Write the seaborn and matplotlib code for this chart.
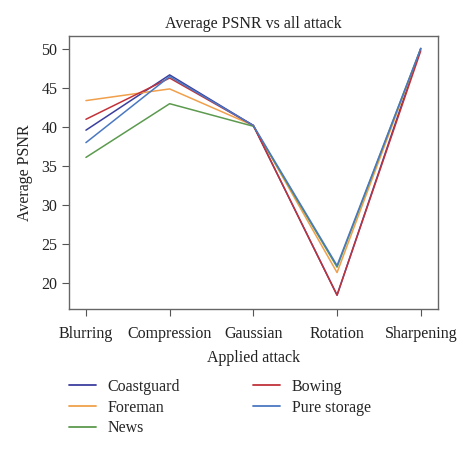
import pandas as pd
import numpy as np
import seaborn as sns
import matplotlib
matplotlib.use('Agg')
import matplotlib.pyplot as plt

# Data
attacks = ['Blurring', 'Compression', 'Gaussian', 'Rotation', 'Sharpening']
coastguard = [39.6, 46.7, 40.2, 18.4, 50.1]
foreman = [43.4, 44.9, 40.2, 21.3, 50.0]
news = [36.1, 43.0, 40.1, 22.0, 50.1]
bowing = [41.0, 46.3, 40.2, 18.4, 49.8]
pure_storage = [38.0, 46.5, 40.2, 22.2, 50.1]

series_names = ['Coastguard', 'Foreman', 'News', 'Bowing', 'Pure storage']
series_vals = [coastguard, foreman, news, bowing, pure_storage]
colors = {'Coastguard': '#3b3f9e', 'Foreman': '#f0a04b', 'News': '#5c9a4e',
          'Bowing': '#c2323a', 'Pure storage': '#4a78c2'}

rows = []
for name, vals in zip(series_names, series_vals):
    for i, v in enumerate(vals):
        rows.append({'attack': i, 'psnr': v, 'video': name})
df = pd.DataFrame(rows)

sns.set_style('ticks')
plt.rcParams['font.family'] = ['Liberation Serif', 'DejaVu Serif']

fig = plt.figure(figsize=(4.74, 4.5), dpi=100)
ax = fig.add_axes([0.146, 0.313, 0.777, 0.607])
sns.lineplot(data=df, x='attack', y='psnr', hue='video', hue_order=series_names,
             palette=colors, linewidth=1.1, ax=ax, legend=False)

ax.set_xlim(-0.2, 4.2)
ax.set_ylim(16.6, 51.7)
ax.set_xticks(range(len(attacks)))
ax.set_xticklabels(attacks, fontsize=11.5, color='#222222')
ax.set_yticks([20, 25, 30, 35, 40, 45, 50])
ax.tick_params(axis='y', labelsize=11.5, labelcolor='#222222', color='#555555', length=5)
ax.tick_params(axis='x', color='#555555', length=5, pad=7)
for s in ax.spines.values():
    s.set_color('#666666')
    s.set_linewidth(1.0)

ax.set_xlabel('Applied attack', fontsize=11.5, color='#222222', labelpad=6)
ax.set_ylabel('Average PSNR', fontsize=11.5, color='#222222', labelpad=6)
ax.set_title('Average PSNR vs all attack', fontsize=11.5, color='#222222', pad=6)

handles = [plt.Line2D([], [], color=colors[n], linewidth=1.3) for n in series_names]
fig.legend(handles, series_names, ncol=2, frameon=False, fontsize=11.5,
           loc='upper left', bbox_to_anchor=(0.115, 0.19), columnspacing=4.6,
           handlelength=1.7, handletextpad=0.7, labelspacing=0.3)

fig.savefig('out.png', dpi=100)
